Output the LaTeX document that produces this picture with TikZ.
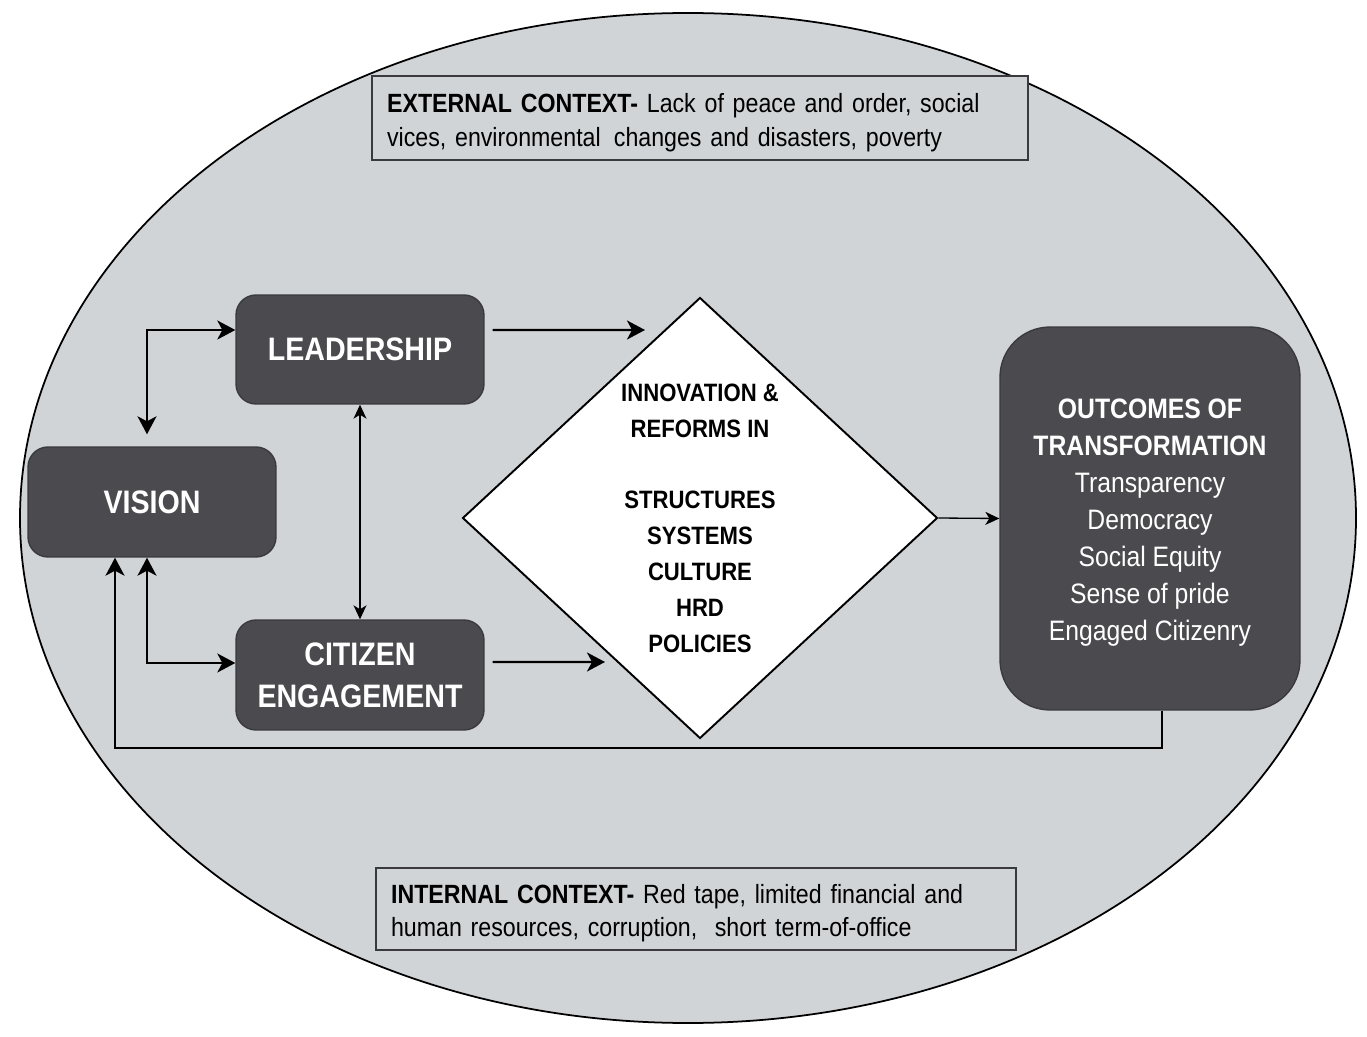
\documentclass[tikz,border=0pt]{standalone}
\usepackage{fontspec}
\setmainfont{Liberation Sans}[FakeStretch=0.88]
\usetikzlibrary{arrows.meta,shapes.geometric}

\definecolor{ovalgray}{HTML}{D0D4D7}
\definecolor{boxgray}{HTML}{4B4A4F}
\definecolor{edgegray}{HTML}{3A393D}

\tikzset{
  darkbox/.style={draw=edgegray,line width=0.8pt,fill=boxgray,rounded corners=0.4cm,
    text=white,font=\fontsize{18.5}{23.8}\selectfont\bfseries,align=center,inner sep=0pt},
  ctxbox/.style={draw=edgegray,line width=0.9pt,fill=ovalgray,align=left,
    inner xsep=0.3cm,inner ysep=0pt,font=\fontsize{15}{19.3}\selectfont},
  arr/.style={line width=1.2pt,-{Stealth[length=0.36cm,width=0.38cm,inset=0.1cm]}},
  biarr/.style={line width=1.2pt,{Stealth[length=0.36cm,width=0.38cm,inset=0.1cm]}-{Stealth[length=0.36cm,width=0.38cm,inset=0.1cm]}},
  thinarr/.style={line width=0.75pt,-{Stealth[length=0.28cm,width=0.26cm,inset=0.08cm]}},
  thinbi/.style={line width=0.75pt,{Stealth[length=0.28cm,width=0.26cm,inset=0.08cm]}-{Stealth[length=0.28cm,width=0.26cm,inset=0.08cm]}}
}
\newcommand{\topgap}[1]{\rule{0pt}{#1}}

\begin{document}
\begin{tikzpicture}[x=0.02cm,y=-0.02cm]
  \useasboundingbox (0,0) rectangle (1367,1037);
  \fill[white] (0,0) rectangle (1367,1037);
  % the context oval
  \draw[fill=ovalgray,line width=1pt] (688,518) ellipse [x radius=668, y radius=505];

  % context boxes
  \node[ctxbox,text width=12.52cm,minimum height=1.68cm] (ext) at (700,118)
    {\topgap{16.4pt}\textbf{EXTERNAL CONTEXT-} Lack of peace and order, social\\
     vices, environmental\, changes and disasters, poverty};
  \node[ctxbox,text width=12.2cm,minimum height=1.64cm] (int) at (696,909)
    {\topgap{15.6pt}\textbf{INTERNAL CONTEXT-} Red tape, limited financial and\\
     human resources, corruption,\ \ short term-of-office};

  % main boxes
  \node[darkbox,minimum width=4.96cm,minimum height=2.2cm] (vision) at (152,502) {VISION};
  \node[darkbox,minimum width=4.96cm,minimum height=2.18cm] (lead) at (360,349.5) {LEADERSHIP};
  \node[darkbox,minimum width=4.96cm,minimum height=2.2cm] (cit) at (360,675) {CITIZEN\\ENGAGEMENT};
  \node[draw,line width=1.1pt,fill=white,diamond,aspect=1.08,inner sep=0pt,
    minimum width=9.5cm,minimum height=8.82cm,align=center,
    font=\fontsize{14.3}{20.4}\selectfont\bfseries] (innov) at (700,518)
    {INNOVATION \&\\REFORMS IN\\[20.4pt]STRUCTURES\\SYSTEMS\\CULTURE\\HRD\\POLICIES};
  \node[darkbox,rounded corners=1cm,minimum width=6cm,minimum height=7.66cm,
    font=\fontsize{16}{21}\selectfont] (outc) at (1150,518.5)
    {\topgap{16pt}\textbf{OUTCOMES OF}\\\textbf{TRANSFORMATION}\\
     \mdseries Transparency\\\mdseries Democracy\\\mdseries Social Equity\\
     \mdseries Sense of pride\\\mdseries Engaged Citizenry};

  % arrow ends
  \coordinate (ltip) at (645,330);
  \coordinate (ctip) at (605,662);
  \coordinate (fbcorner) at (115,748);

  % connectors
  \draw[biarr] ([yshift=0.39cm]lead.west) -| ([xshift=-0.1cm,yshift=0.24cm]vision.north);
  \draw[biarr] ([yshift=0.24cm]cit.west) -| ([xshift=-0.1cm]vision.south);
  \draw[thinbi] (lead.south) -- (cit.north);
  \draw[arr,shorten <=0.16cm] ([yshift=0.39cm]lead.east) -- (ltip);
  \draw[arr,shorten <=0.16cm] ([yshift=0.26cm]cit.east) -- (ctip);
  \draw[thinarr] (innov.east) -- (outc.west);
  \draw[arr] ([xshift=0.24cm]outc.south) |- (fbcorner) -- (vision.south -| fbcorner);
\end{tikzpicture}
\end{document}
